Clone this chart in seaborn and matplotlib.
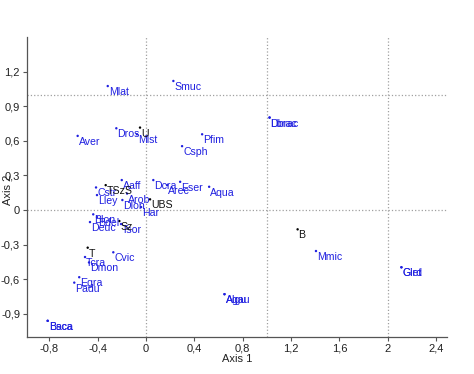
import matplotlib
matplotlib.use("Agg")
import matplotlib.pyplot as plt
import seaborn as sns
import pandas as pd
from matplotlib.ticker import FixedLocator, FuncFormatter

# species scores (blue)
species = ["Smuc", "Mlat", "Aver", "Dros", "Mlst", "Dbrac", "Lbrac", "Pfim", "Csph",
           "Dcra", "Eser", "Arec", "Aqua", "Aaff", "Cstr", "Lley", "Arob", "Dlon",
           "Har", "Blon", "Bdel", "Deuc", "Tsor", "Cvic", "Tcra", "Dmon", "Egra",
           "Padu", "Bsca", "Baca", "Mmic", "Agau", "Algu", "Gird", "Glet"]
sp_x = [0.226, -0.317, -0.566, -0.246, -0.075, 1.022, 1.022, 0.464, 0.298,
        0.060, 0.282, 0.174, 0.522, -0.201, -0.414, -0.406, -0.157, -0.196,
        -0.041, -0.437, -0.406, -0.464, -0.207, -0.271, -0.505, -0.472, -0.553,
        -0.594, -0.814, -0.814, 1.406, 0.649, 0.649, 2.113, 2.113]
sp_y = [1.119, 1.075, 0.643, 0.709, 0.657, 0.802, 0.802, 0.657, 0.554,
        0.260, 0.245, 0.216, 0.202, 0.260, 0.196, 0.130, 0.143, 0.087,
        0.026, -0.037, -0.061, -0.104, -0.121, -0.366, -0.407, -0.454, -0.582,
        -0.629, -0.960, -0.960, -0.355, -0.729, -0.729, -0.496, -0.496]

# site scores (black)
sites = ["U", "TSzS", "UBS", "Sz", "T", "B"]
st_x = [-0.050, -0.334, 0.033, -0.221, -0.483, 1.254]
st_y = [0.715, 0.216, 0.093, -0.095, -0.326, -0.167]

x_ticks = [-0.8, -0.4, 0, 0.4, 0.8, 1.2, 1.6, 2, 2.4]
y_ticks = [-0.9, -0.6, -0.3, 0, 0.3, 0.6, 0.9, 1.2]

sns.set_style("white")
plt.rcParams["font.family"] = ["Liberation Sans", "DejaVu Sans"]

fig = plt.figure(figsize=(4.74, 3.74), dpi=100)
ax = fig.add_axes([0.057, 0.099, 0.886, 0.802])

sp_df = pd.DataFrame({"name": species, "x": sp_x, "y": sp_y})
st_df = pd.DataFrame({"name": sites, "x": st_x, "y": st_y})

for v in [0, 1, 2]:
    ax.axvline(v, color="#a0a0a0", ls=":", lw=0.9, zorder=0)
for v in [0, 1]:
    ax.axhline(v, color="#a0a0a0", ls=":", lw=0.9, zorder=0)

blue = "#1f1fe0"
sns.scatterplot(data=sp_df, x="x", y="y", ax=ax, color=blue, s=3,
                edgecolor="none", legend=False)
sns.scatterplot(data=st_df, x="x", y="y", ax=ax, color="black", s=3,
                edgecolor="none", legend=False)

for _, r in sp_df.iterrows():
    ax.annotate(r["name"], (r["x"], r["y"]), xytext=(1, -6),
                textcoords="offset pixels", ha="left", va="center",
                fontsize=7.6, color=blue)
for _, r in st_df.iterrows():
    ax.annotate(r["name"], (r["x"], r["y"]), xytext=(1, -6),
                textcoords="offset pixels", ha="left", va="center",
                fontsize=7.6, color="#111111")

ax.set_xlim(-0.985, 2.49)
ax.set_ylim(-1.10, 1.50)

fmt = FuncFormatter(lambda v, p: ("%g" % round(v, 2)).replace(".", ",") if abs(v) > 1e-9 else "0")
ax.xaxis.set_major_locator(FixedLocator(x_ticks))
ax.yaxis.set_major_locator(FixedLocator(y_ticks))
ax.xaxis.set_major_formatter(fmt)
ax.yaxis.set_major_formatter(fmt)

for s in ["top", "right"]:
    ax.spines[s].set_visible(False)
for s in ["left", "bottom"]:
    ax.spines[s].set_color("#555555")
    ax.spines[s].set_linewidth(0.9)

ax.tick_params(axis="both", direction="out", length=3, width=0.8, color="#555555",
               labelsize=8, labelcolor="#222222", pad=2, bottom=True, left=True)

ax.set_xlabel("Axis 1", fontsize=8, color="#222222", labelpad=0)
ax.set_ylabel("Axis 2", fontsize=8, color="#222222")
ax.yaxis.set_label_coords(-0.033, 0.49)

fig.savefig("out.png", dpi=100)
